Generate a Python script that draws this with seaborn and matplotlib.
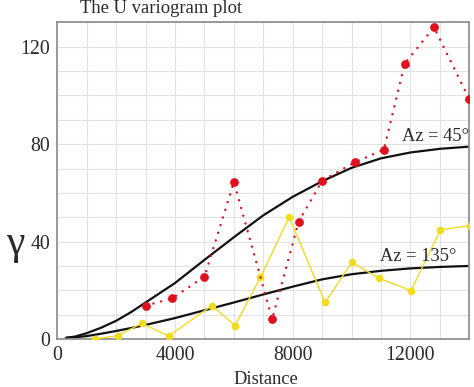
import numpy as np
import pandas as pd
import seaborn as sns
import matplotlib.pyplot as plt

# --- data ---
red_dist = [3000, 3900, 5000, 6000, 7300, 8200, 9000, 10100, 11100, 11800, 12800, 14000]
red_gamma = [13.7, 16.7, 25.6, 64.5, 8.2, 48.2, 65.0, 72.5, 77.8, 113.0, 128.0, 98.5]

yel_dist = [1280, 2050, 2870, 3780, 5250, 6040, 6900, 7880, 9100, 10010, 10920, 12020, 13020, 14010]
yel_gamma = [0.0, 1.4, 6.4, 1.2, 13.7, 5.5, 25.3, 50.0, 15.0, 31.5, 25.0, 19.9, 44.8, 46.6]

model_dist = [300, 600, 1000, 1500, 2000, 2500, 3000, 3500, 4000, 5000, 6000, 7000, 8000, 9000,
              10000, 11000, 12000, 13000, 14000]
model_45 = [0.5, 1.0, 2.4, 4.7, 7.5, 11.0, 15.0, 19.0, 23.0, 32.5, 41.8, 50.8, 58.4, 64.8,
            70.3, 74.2, 76.6, 78.1, 79.0]
model_135 = [0.5, 0.7, 1.2, 2.2, 3.3, 4.5, 5.8, 7.2, 8.6, 11.8, 15.0, 18.3, 21.5, 24.5,
             26.6, 28.0, 29.0, 29.6, 30.0]

sns.set_theme(style='whitegrid')
plt.rcParams['font.family'] = ['Liberation Serif', 'DejaVu Serif']

fig = plt.figure(figsize=(4.74, 3.87), dpi=100)
ax = fig.add_axes([0.121, 0.124, 0.869, 0.818])

# model curves
sns.lineplot(x=model_dist, y=model_45, ax=ax, color='#111111', linewidth=1.6, zorder=2)
sns.lineplot(x=model_dist, y=model_135, ax=ax, color='#111111', linewidth=1.6, zorder=2)

# experimental variograms
sns.lineplot(x=yel_dist, y=yel_gamma, ax=ax, color='#f0dc1e', linewidth=1.0,
             marker='o', markersize=5.5, markeredgewidth=0, zorder=3)
sns.lineplot(x=red_dist, y=red_gamma, ax=ax, color='#e1101e', linewidth=1.8,
             marker='o', markersize=6.3, markeredgewidth=0, zorder=4)
ax.lines[-1].set_linestyle((0, (0.01, 3.2)))
ax.lines[-1].set_dash_capstyle('round')

ax.set_xlim(0, 14000)
ax.set_ylim(0, 130)
ax.set_xticks(np.arange(0, 14001, 1000))
ax.set_yticks(np.arange(0, 131, 10))
ax.set_xticklabels([str(v) if v % 4000 == 0 else '' for v in range(0, 14001, 1000)])
ax.set_yticklabels([str(v) if v % 40 == 0 else '' for v in range(0, 131, 10)])
ax.tick_params(length=0, labelsize=14.3, colors='#2a2a2a', pad=5)
ax.grid(True, color='#e2e2e2', linewidth=0.8)
for s in ax.spines.values():
    s.set_color('#8a8a8a')
    s.set_linewidth(1.2)

ax.text(14000, 83, 'Az = 45°', ha='right', va='center', fontsize=13.3, color='#2a2a2a')
ax.text(13560, 34, 'Az = 135°', ha='right', va='center', fontsize=13.3, color='#2a2a2a')

fig.text(0.168, 0.979, 'The U variogram plot', ha='left', va='center', fontsize=13.4, color='#2a2a2a')
fig.text(0.56, 0.02, 'Distance', ha='center', va='center', fontsize=13.3, color='#2a2a2a')
fig.text(0.032, 0.37, 'γ', ha='center', va='center', fontsize=30, color='#2a2a2a')

fig.savefig('out.png', dpi=100)
